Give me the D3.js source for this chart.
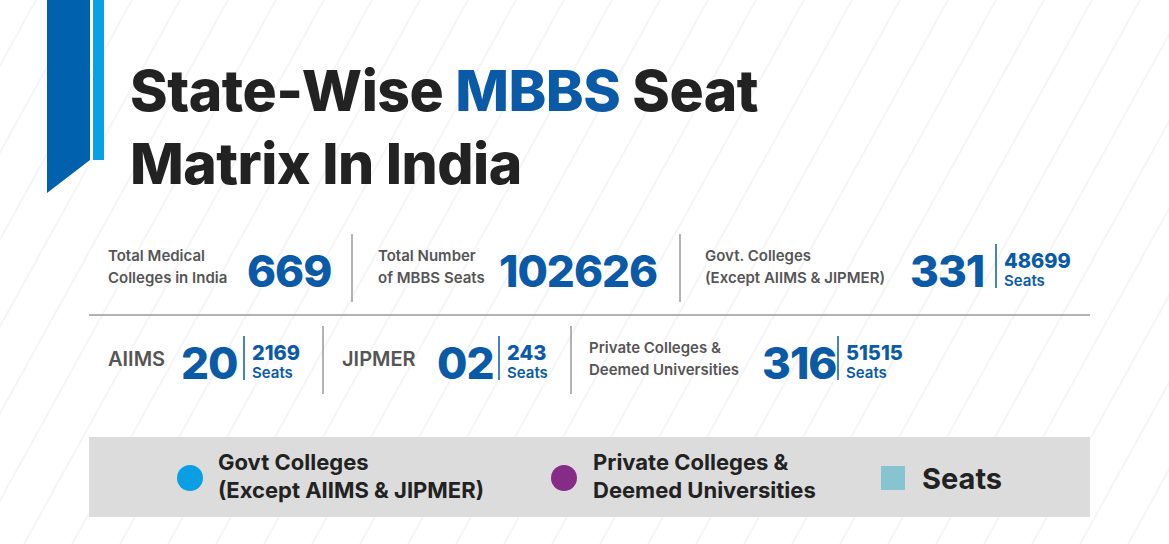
<!DOCTYPE html><html><head><meta charset="utf-8">
<script src="https://cdn.jsdelivr.net/npm/d3@7"></script>
<style>body{margin:0;background:#fff}svg{display:block}</style></head><body>
<svg id="c" width="1169" height="544"></svg>
<script>
const titleLines=[["State-Wise ",""],["MBBS","hl"],[" Seat",""]];
const row1=[
 {label:["Total Medical","Colleges in India"],num:"669",x:108,nx:247},
 {label:["Total Number","of MBBS Seats"],num:"102626",x:378,nx:499},
 {label:["Govt. Colleges","(Except AIIMS & JIPMER)"],num:"331",x:705,nx:910,seats:"48699",sx:1004}];
const row2=[
 {label:["AIIMS"],num:"20",x:108,nx:181,seats:"2169",sx:252},
 {label:["JIPMER"],num:"02",x:342,nx:437,seats:"243",sx:507},
 {label:["Private Colleges &","Deemed Universities"],num:"316",x:589,nx:762,seats:"51515",sx:846}];
const legendItems=[{t:["Govt Colleges","(Except AIIMS & JIPMER)"],c:"#0a9fe3",shape:"circle",x:190,tx:218},
 {t:["Private Colleges &","Deemed Universities"],c:"#862b86",shape:"circle",x:564,tx:593},
 {t:["Seats"],c:"#86c4cf",shape:"rect",x:893,tx:922}];
const dividers1=[352,680], dividers2=[323,571];
const svg=d3.select("#c"), F="Inter, 'Open Sans', sans-serif";
const sg=svg.append("g").attr("stroke","#f5f5f5").attr("stroke-width",2);
d3.range(-600,1800,48).forEach(x=>sg.append("line").attr("x1",x).attr("y1",544).attr("x2",x+300).attr("y2",0));
svg.append("path").attr("d","M47,0H90V160L47,193Z").attr("fill","#0062ae");
svg.append("rect").attr("x",93).attr("y",0).attr("width",11).attr("height",160).attr("fill","#0aa0e6");
const t=svg.append("text").attr("x",130).attr("y",111).attr("font-family",F).attr("font-weight",800).attr("font-size",57).attr("letter-spacing",-0.5).attr("fill","#222");
titleLines.forEach(d=>t.append("tspan").text(d[0]).attr("fill",d[1]?"#0a5aa8":null));
svg.append("text").attr("x",130).attr("y",184).attr("font-family",F).attr("font-weight",800).attr("font-size",57).attr("letter-spacing",-0.5).attr("fill","#222").text("Matrix In India");
function row(items,y,divs,dy0,dy1){
 items.forEach(d=>{
  const lab=d.label.length>1;
  d.label.forEach((l,i)=>svg.append("text").attr("x",d.x).attr("y",lab?y-5+i*22:y+8).attr("font-family",F).attr("font-weight",600)
    .attr("font-size",lab?15:20).attr("fill","#555").text(l));
  svg.append("text").attr("x",d.nx).attr("y",y+21).attr("font-family",F).attr("font-weight",800).attr("font-size",44).attr("letter-spacing",-1).attr("fill","#0a5aa8").text(d.num);
  if(d.seats){
   svg.append("line").attr("x1",d.sx-8).attr("x2",d.sx-8).attr("y1",y-22).attr("y2",y+22).attr("stroke","#0a5aa8").attr("stroke-width",1.5);
   svg.append("text").attr("x",d.sx).attr("y",y+2).attr("font-family",F).attr("font-weight",800).attr("font-size",20).attr("fill","#0a5aa8").text(d.seats);
   svg.append("text").attr("x",d.sx).attr("y",y+20).attr("font-family",F).attr("font-weight",600).attr("font-size",15).attr("fill","#0a5aa8").text("Seats");
  }
 });
 divs.forEach(x=>svg.append("line").attr("x1",x).attr("x2",x).attr("y1",y+dy0).attr("y2",y+dy1).attr("stroke","#999").attr("stroke-width",1.5));
}
row(row1,266,dividers1,-32,36);
svg.append("line").attr("x1",89).attr("x2",1090).attr("y1",315).attr("y2",315).attr("stroke","#999").attr("stroke-width",1.5);
row(row2,358,dividers2,-32,36);
svg.append("rect").attr("x",89).attr("y",437).attr("width",1001).attr("height",80).attr("fill","#dcdcdc");
legendItems.forEach(d=>{
 if(d.shape=="circle")svg.append("circle").attr("cx",d.x).attr("cy",478).attr("r",13).attr("fill",d.c);
 else svg.append("rect").attr("x",d.x-12).attr("y",466).attr("width",24).attr("height",24).attr("fill",d.c);
 const two=d.t.length>1;
 d.t.forEach((l,i)=>svg.append("text").attr("x",d.tx).attr("y",two?470+i*28:489).attr("font-family",F).attr("font-weight",700)
   .attr("font-size",two?22:29).attr("fill","#222").text(l));
});
</script></body></html>
